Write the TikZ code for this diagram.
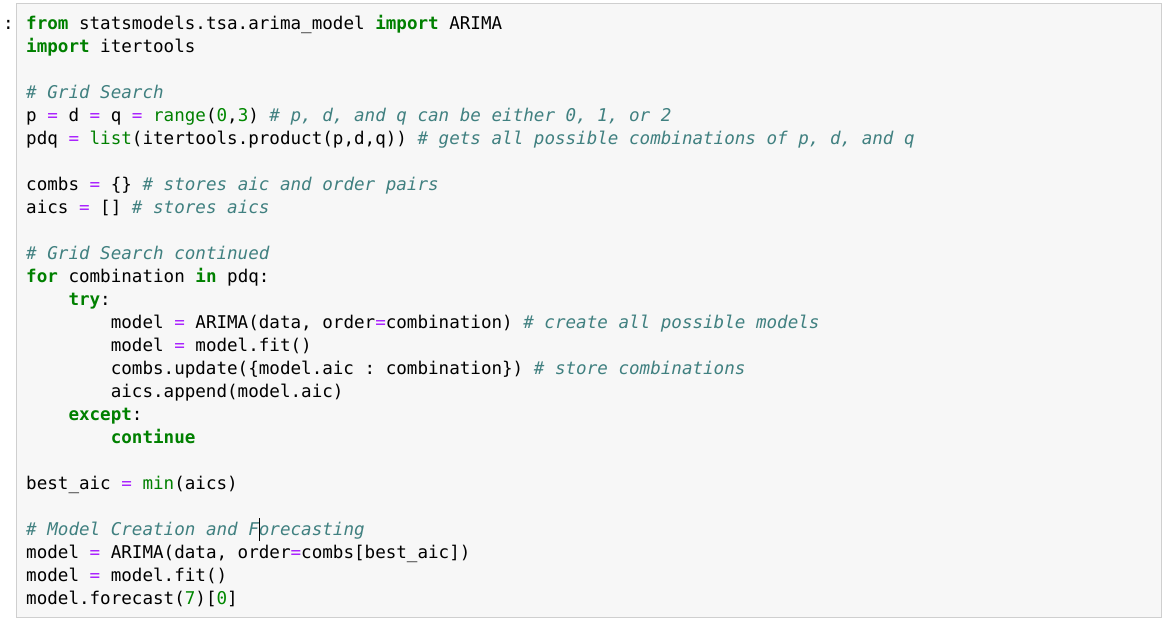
\documentclass[tikz,border=0pt]{standalone}
\usepackage{fontspec}
\setmonofont{DejaVu Sans Mono}
\definecolor{kwc}{HTML}{008000}
\definecolor{opc}{HTML}{AA22FF}
\definecolor{nmc}{HTML}{008800}
\definecolor{cmc}{HTML}{408080}
\definecolor{bgc}{HTML}{F7F7F7}
\definecolor{bdc}{HTML}{CFCFCF}
\newcommand{\kw}[1]{\textcolor{kwc}{\bfseries #1}}
\newcommand{\op}[1]{\textcolor{opc}{#1}}
\newcommand{\bi}[1]{\textcolor{kwc}{#1}}
\newcommand{\nm}[1]{\textcolor{nmc}{#1}}
\newcommand{\cm}[1]{\textcolor{cmc}{\itshape #1}}
\newcommand{\codeline}[3]{\pgfmathsetmacro{\cx}{26+42.3*#2}\pgfmathsetmacro{\cy}{29+23*(#1-1)}\node[code] (l#1) at (\cx,\cy) {#3};}
\begin{document}
\begin{tikzpicture}[x=1pt,y=-1pt,
  code/.style={anchor=base west,inner sep=0pt,font=\ttfamily\fontsize{17.57}{20}\selectfont,text=black}]
\useasboundingbox (0,0) rectangle (1162,624);
\draw[bdc,fill=bgc] (16.5,3.5) rectangle (1161.5,617.5);
\node[code] (pr) at (3,29) {:};
\codeline{1}{0}{\kw{from} statsmodels.tsa.arima\_model \kw{import} ARIMA}
\codeline{2}{0}{\kw{import} itertools}
\codeline{4}{0}{\cm{\# Grid Search}}
\codeline{5}{0}{p \op{=} d \op{=} q \op{=} \bi{range}(\nm{0},\nm{3}) \cm{\# p, d, and q can be either 0, 1, or 2}}
\codeline{6}{0}{pdq \op{=} \bi{list}(itertools.product(p,d,q)) \cm{\# gets all possible combinations of p, d, and q}}
\codeline{8}{0}{combs \op{=} \{\} \cm{\# stores aic and order pairs}}
\codeline{9}{0}{aics \op{=} [] \cm{\# stores aics}}
\codeline{11}{0}{\cm{\# Grid Search continued}}
\codeline{12}{0}{\kw{for} combination \kw{in} pdq:}
\codeline{13}{1}{\kw{try}:}
\codeline{14}{2}{model \op{=} ARIMA(data, order\op{=}combination) \cm{\# create all possible models}}
\codeline{15}{2}{model \op{=} model.fit()}
\codeline{16}{2}{combs.update(\{model.aic : combination\}) \cm{\# store combinations}}
\codeline{17}{2}{aics.append(model.aic)}
\codeline{18}{1}{\kw{except}:}
\codeline{19}{2}{\kw{continue}}
\codeline{21}{0}{best\_aic \op{=} \bi{min}(aics)}
\codeline{23}{0}{\cm{\# Model Creation and Forecasting}}
\codeline{24}{0}{model \op{=} ARIMA(data, order\op{=}combs[best\_aic])}
\codeline{25}{0}{model \op{=} model.fit()}
\codeline{26}{0}{model.forecast(\nm{7})[\nm{0}]}
\coordinate (c1) at (259.5,518);
\coordinate (c2) at (259.5,541);
\draw[black,line width=1pt] (c1) -- (c2);
\end{tikzpicture}
\end{document}
